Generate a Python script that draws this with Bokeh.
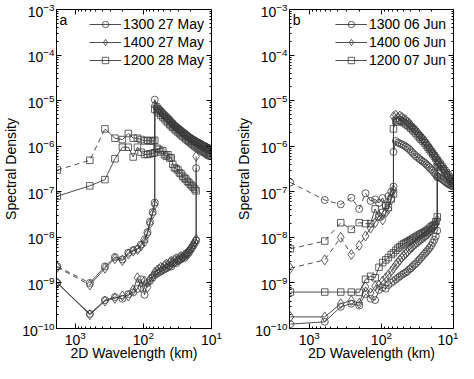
from bokeh.plotting import figure
from bokeh.models import (Range1d, LogAxis, FixedTicker, Label, Legend, LegendItem,
                          CustomJSTickFormatter)
from bokeh.layouts import row
from bokeh.embed import file_html
from bokeh.resources import INLINE

# 2D wavelengths (km): coarse spectrum points and fine spectrum points
LAM_C = [1830, 610, 366, 261, 203, 166, 141, 122, 108, 96, 87, 80, 73, 68]
LAM_T = [68, 63, 59, 55.5, 52, 49, 46, 43.5, 41, 39, 37, 35, 33, 31, 29.5, 28, 26.5, 25,
         23.8, 22.6, 21.5, 20.4, 19.4, 18.5, 17.6, 16.8, 16, 15.2, 14.5, 13.8, 13.2, 12.6,
         12, 11.5, 11, 10.5, 10.1]
LAM_B = LAM_C + LAM_T[1:26]
LAM_JUMP = 16.8

X_TICKS = [10, 100, 1000]
Y_TICKS = [1e-10, 1e-9, 1e-8, 1e-7, 1e-6, 1e-5, 1e-4, 1e-3]

# ---------------- panel a ----------------
A_LABELS = ["1300 27 May", "1400 27 May", "1200 28 May"]
a1300_coarse = [2.3e-9, 1.0e-9, 2.3e-9, 3.7e-9, 3.3e-9, 4.6e-9, 5.2e-9, 5.6e-9, 7.0e-9, 9.0e-9, 1.3e-8, 2.2e-8, 3.6e-8, 5.8e-8]
a1300_top = [1.05e-5, 7.5e-6, 6.6e-6, 6.0e-6, 5.4e-6, 4.9e-6, 4.5e-6, 4.1e-6, 3.8e-6, 3.4e-6, 3.2e-6, 2.9e-6, 2.7e-6,
             2.5e-6, 2.35e-6, 2.2e-6, 2.05e-6, 1.95e-6, 1.8e-6, 1.7e-6, 1.6e-6, 1.5e-6, 1.45e-6, 1.38e-6, 1.32e-6,
             1.27e-6, 1.22e-6, 1.16e-6, 1.12e-6, 1.08e-6, 1.03e-6, 1.0e-6, 9.6e-7, 9.3e-7, 9.0e-7, 8.7e-7, 8.4e-7]
a1300_low = [1.0e-9, 2.1e-10, 4.2e-10, 4.9e-10, 4.5e-10, 5.7e-10, 6.2e-10, 7.4e-10, 1.2e-9, 5.5e-10, 1.0e-9, 1.1e-9,
             1.3e-9, 1.5e-9, 1.6e-9, 1.7e-9, 1.8e-9, 1.9e-9, 2.0e-9, 2.1e-9, 2.2e-9, 2.4e-9, 2.3e-9, 2.6e-9, 2.8e-9,
             2.7e-9, 3.0e-9, 3.2e-9, 3.3e-9, 3.6e-9, 3.5e-9, 3.9e-9, 4.2e-9, 4.6e-9, 5.2e-9, 5.8e-9, 6.6e-9, 7.5e-9, 8.5e-9]
a1300_jump = 3.3e-7

a1400_coarse = [2.2e-9, 9.0e-10, 2.1e-9, 3.4e-9, 3.1e-9, 4.3e-9, 5.0e-9, 5.4e-9, 6.5e-9, 8.0e-9, 1.2e-8, 2.0e-8, 3.3e-8, 5.2e-8]
a1400_top = [7.8e-6, 7.0e-6, 6.2e-6, 5.6e-6, 5.2e-6, 4.6e-6, 4.3e-6, 3.9e-6, 3.6e-6, 3.3e-6, 3.0e-6, 2.8e-6, 2.6e-6,
             2.4e-6, 2.25e-6, 2.1e-6, 2.0e-6, 1.85e-6, 1.75e-6, 1.65e-6, 1.55e-6, 1.47e-6, 1.4e-6, 1.33e-6, 1.28e-6,
             1.22e-6, 1.17e-6, 1.12e-6, 1.08e-6, 1.04e-6, 1.0e-6, 9.6e-7, 9.3e-7, 9.0e-7, 8.7e-7, 8.4e-7, 8.1e-7]
a1400_low = [1.0e-9, 2.0e-10, 4.0e-10, 4.6e-10, 5.2e-10, 5.2e-10, 7.0e-10, 1.3e-9, 8.0e-10, 1.1e-9, 8.0e-10, 1.2e-9,
             1.4e-9, 1.7e-9, 1.9e-9, 2.0e-9, 2.2e-9, 2.1e-9, 2.4e-9, 2.6e-9, 2.5e-9, 2.8e-9, 3.0e-9, 2.9e-9, 3.2e-9,
             3.4e-9, 3.3e-9, 3.6e-9, 3.8e-9, 3.7e-9, 4.1e-9, 4.3e-9, 4.6e-9, 5.0e-9, 5.6e-9, 6.2e-9, 7.0e-9, 8.0e-9, 9.0e-9]
a1400_jump = 6.0e-7

a1200_coarse = [3.0e-7, 4.9e-7, 2.4e-6, 1.5e-6, 1.4e-6, 1.9e-6, 1.5e-6, 1.5e-6, 1.4e-6, 1.3e-6, 1.35e-6, 1.3e-6, 1.3e-6, 1.35e-6]
a1200_top = [6.5e-6, 6.0e-6, 5.4e-6, 4.8e-6, 4.4e-6, 4.0e-6, 3.6e-6, 3.3e-6, 3.0e-6, 2.8e-6, 2.6e-6, 2.4e-6, 2.2e-6,
             2.05e-6, 1.9e-6, 1.78e-6, 1.66e-6, 1.55e-6, 1.45e-6, 1.36e-6, 1.28e-6, 1.2e-6, 1.13e-6, 1.07e-6, 1.01e-6,
             9.6e-7, 9.1e-7, 8.7e-7, 8.3e-7, 7.9e-7, 7.6e-7, 7.3e-7, 7.0e-7, 6.7e-7, 6.4e-7, 6.2e-7, 6.0e-7]
a1200_low = [8.0e-8, 1.35e-7, 1.85e-7, 5.3e-7, 9.5e-7, 9.5e-7, 5.8e-7, 9.5e-7, 7.4e-7, 6.6e-7, 6.6e-7, 6.8e-7, 7.0e-7,
             7.2e-7, 9.0e-7, 8.5e-7, 7.5e-7, 8.0e-7, 6.5e-7, 6.0e-7, 6.5e-7, 5.5e-7, 5.6e-7, 4.0e-7, 3.4e-7, 3.2e-7,
             3.0e-7, 2.6e-7, 2.5e-7, 2.2e-7, 2.0e-7, 1.9e-7, 1.7e-7, 1.6e-7, 1.45e-7, 1.35e-7, 1.25e-7, 1.15e-7, 1.05e-7]
a1200_jump = None

# ---------------- panel b ----------------
B_LABELS = ["1300 06 Jun", "1400 06 Jun", "1200 07 Jun"]
b1300_coarse = [1.6e-7, 6.6e-8, 5.3e-8, 7.4e-8, 4.2e-8, 9.3e-8, 6.3e-8, 6.8e-8, 5.7e-8, 7.3e-8, 5.0e-8, 8.0e-8, 1.0e-7, 1.3e-7]
b1300_top = [7.5e-7, 1.3e-6, 1.2e-6, 1.15e-6, 1.1e-6, 1.05e-6, 9.8e-7, 9.2e-7, 8.6e-7, 7.8e-7, 7.2e-7, 6.6e-7, 6.0e-7,
             5.6e-7, 5.2e-7, 4.9e-7, 4.6e-7, 4.3e-7, 4.0e-7, 3.7e-7, 3.4e-7, 3.1e-7, 2.9e-7, 2.6e-7, 2.4e-7, 2.2e-7,
             2.1e-7, 2.0e-7, 1.9e-7, 1.8e-7, 1.7e-7, 1.6e-7, 1.5e-7, 1.45e-7, 1.4e-7, 1.35e-7, 1.3e-7]
b1300_low = [1.25e-10, 1.4e-10, 3.0e-10, 3.5e-10, 3.2e-10, 5.7e-10, 4.5e-10, 4.2e-10, 7.0e-10, 8.0e-10, 7.5e-10, 9.0e-10,
             1.0e-9, 1.1e-9, 1.2e-9, 1.3e-9, 1.4e-9, 1.5e-9, 1.6e-9, 1.7e-9, 1.8e-9, 2.0e-9, 2.1e-9, 2.3e-9, 2.5e-9,
             2.7e-9, 3.0e-9, 3.3e-9, 3.6e-9, 4.0e-9, 4.4e-9, 4.8e-9, 5.3e-9, 5.9e-9, 6.6e-9, 7.6e-9, 8.8e-9, 1.05e-8, 1.4e-8]
b1300_jump = 2.1e-7

b1400_coarse = [2.1e-9, 3.2e-9, 1.0e-8, 4.2e-9, 6.6e-9, 1.07e-8, 1.6e-8, 2.1e-8, 3.0e-8, 2.4e-8, 3.5e-8, 4.2e-8, 6.8e-8, 1.1e-7]
b1400_top = [4.5e-6, 4.8e-6, 4.3e-6, 4.6e-6, 4.3e-6, 4.0e-6, 3.8e-6, 3.4e-6, 3.2e-6, 2.9e-6, 2.6e-6, 2.4e-6, 2.2e-6,
             1.95e-6, 1.75e-6, 1.6e-6, 1.45e-6, 1.3e-6, 1.15e-6, 1.0e-6, 9.0e-7, 8.0e-7, 7.1e-7, 6.3e-7, 5.6e-7,
             4.9e-7, 4.4e-7, 3.9e-7, 3.5e-7, 3.1e-7, 2.8e-7, 2.5e-7, 2.25e-7, 2.0e-7, 1.8e-7, 1.6e-7, 1.45e-7]
b1400_low = [1.8e-10, 1.8e-10, 3.5e-10, 4.1e-10, 3.6e-10, 8.2e-10, 6.0e-10, 8.5e-10, 9.0e-10, 1.1e-9, 1.3e-9, 1.5e-9,
             1.8e-9, 2.1e-9, 2.5e-9, 2.8e-9, 3.2e-9, 3.6e-9, 4.0e-9, 4.4e-9, 4.8e-9, 5.4e-9, 5.8e-9, 6.2e-9, 6.8e-9,
             7.4e-9, 8.0e-9, 8.6e-9, 9.2e-9, 9.8e-9, 1.05e-8, 1.12e-8, 1.2e-8, 1.3e-8, 1.42e-8, 1.56e-8, 1.75e-8, 2.0e-8, 2.4e-8]
b1400_jump = 4.0e-7

b1200_coarse = [5.6e-9, 8.3e-9, 2.1e-8, 1.5e-8, 2.1e-8, 2.0e-8, 2.0e-8, 4.2e-8, 2.8e-8, 3.5e-8, 5.0e-8, 4.5e-8, 7.0e-8, 9.0e-8]
b1200_top = [2.4e-6, 3.6e-6, 3.4e-6, 3.7e-6, 3.5e-6, 3.3e-6, 3.1e-6, 2.9e-6, 2.7e-6, 2.5e-6, 2.3e-6, 2.1e-6, 1.9e-6,
             1.7e-6, 1.55e-6, 1.42e-6, 1.3e-6, 1.18e-6, 1.06e-6, 9.5e-7, 8.5e-7, 7.6e-7, 6.8e-7, 6.1e-7, 5.5e-7,
             4.9e-7, 4.4e-7, 4.0e-7, 3.6e-7, 3.2e-7, 2.9e-7, 2.6e-7, 2.35e-7, 2.1e-7, 1.9e-7, 1.7e-7, 1.55e-7]
b1200_low = [6.3e-10, 6.3e-10, 6.3e-10, 6.3e-10, 6.2e-10, 1.2e-9, 1.4e-9, 1.3e-9, 2.2e-9, 2.8e-9, 3.2e-9, 3.6e-9,
             4.2e-9, 4.6e-9, 5.2e-9, 5.8e-9, 6.2e-9, 6.8e-9, 7.2e-9, 7.6e-9, 8.0e-9, 8.4e-9, 8.8e-9, 9.2e-9, 9.8e-9,
             1.04e-8, 1.1e-8, 1.15e-8, 1.2e-8, 1.26e-8, 1.32e-8, 1.4e-8, 1.48e-8, 1.58e-8, 1.7e-8, 1.8e-8, 1.9e-8, 2.2e-8, 2.8e-8]
b1200_jump = 3.5e-7

FONT = "Liberation Sans"
INK = "#3a3a3a"
MARKERS = [("circle", 7), ("diamond", 10), ("square", 6.5)]


def draw_series(p, marker, size, coarse, top, low, jump, n_dash):
    x1 = LAM_C + LAM_T
    y1 = coarse + top
    p.line(x1[:n_dash], y1[:n_dash], line_color=INK, line_width=0.9, line_dash="5 4")
    solid = p.line(x1[n_dash - 1:], y1[n_dash - 1:], line_color=INK, line_width=0.9)
    x2 = list(LAM_B)
    y2 = list(low)
    if jump is not None:
        x2.append(LAM_JUMP)
        y2.append(jump)
    p.line(x2, y2, line_color=INK, line_width=0.9)
    p.scatter(x2, y2, marker=marker, size=size, line_color=INK, line_width=0.8, fill_alpha=0)
    sc = p.scatter(x1, y1, marker=marker, size=size, line_color=INK, line_width=0.8, fill_alpha=0)
    return [solid, sc]


def style_axis(ax):
    ax.major_tick_in = 5
    ax.major_tick_out = 0
    ax.minor_tick_in = 2
    ax.minor_tick_out = 0
    ax.axis_line_color = "black"
    ax.major_tick_line_color = "black"
    ax.minor_tick_line_color = "black"
    ax.major_label_text_font = FONT
    ax.major_label_text_color = "black"
    ax.axis_label_text_font = FONT
    ax.axis_label_text_font_style = "normal"
    ax.axis_label_text_font_size = "14px"
    ax.axis_label_text_color = "black"


def make_panel(letter, labels, series, dashes, width, right_border):
    p = figure(width=width, height=363, x_axis_type="log", y_axis_type="log",
               x_range=Range1d(1880, 10), y_range=Range1d(1e-10, 1e-3),
               output_backend="svg", toolbar_location=None,
               min_border_left=46, min_border_right=right_border, min_border_top=9, min_border_bottom=0)
    p.grid.visible = False
    p.outline_line_color = "black"
    p.background_fill_color = "white"
    xminor = [k * 10 ** e for e in (1, 2) for k in range(2, 10)]
    yminor = [k * 10.0 ** e for e in range(-10, -3) for k in range(2, 10)]
    bottom_ax = p.below[0]
    left_ax = p.left[0]
    bottom_ax.axis_label = "2D Wavelength (km)"
    left_ax.axis_label = "Spectral Density"
    bottom_ax.ticker = FixedTicker(ticks=X_TICKS, minor_ticks=xminor)
    left_ax.ticker = FixedTicker(ticks=Y_TICKS, minor_ticks=yminor)
    blank = CustomJSTickFormatter(code="return ' '")
    top_ax = LogAxis(ticker=FixedTicker(ticks=X_TICKS, minor_ticks=xminor), formatter=blank,
                     major_label_text_font_size="1px", major_label_standoff=0, axis_label_standoff=0)
    right_ax = LogAxis(ticker=FixedTicker(ticks=Y_TICKS, minor_ticks=yminor), formatter=blank,
                       major_label_text_font_size="1px", major_label_standoff=0, axis_label_standoff=0)
    p.add_layout(top_ax, "above")
    p.add_layout(right_ax, "right")
    for ax in [bottom_ax, left_ax, top_ax, right_ax]:
        style_axis(ax)
    for ax in [bottom_ax, left_ax]:
        ax.major_label_text_font_size = "14px"
        ax.major_label_standoff = 2
    left_ax.axis_label_standoff = 0
    bottom_ax.axis_label_standoff = -3

    items = []
    for (marker, size), (coarse, top, low, jump), lab, nd in zip(MARKERS, series, labels, dashes):
        rs = draw_series(p, marker, size, coarse, top, low, jump, nd)
        items.append(LegendItem(label=lab, renderers=rs))
    leg = Legend(items=items, location="top_right")
    leg.border_line_alpha = 0
    leg.background_fill_alpha = 0
    leg.label_text_font = FONT
    leg.label_text_font_size = "14px"
    leg.label_text_color = "black"
    leg.glyph_width = 32
    leg.glyph_height = 16
    leg.label_height = 16
    leg.label_standoff = 2
    leg.spacing = 2
    leg.padding = 2
    leg.margin = 5
    p.add_layout(leg, "center")
    p.add_layout(Label(x=1700, y=9e-4, text=letter, text_baseline="top", text_align="left",
                       text_font=FONT, text_font_size="14px", text_color="black"))
    return p


pa = make_panel("a", A_LABELS,
                [(a1300_coarse, a1300_top, a1300_low, a1300_jump),
                 (a1400_coarse, a1400_top, a1400_low, a1400_jump),
                 (a1200_coarse, a1200_top, a1200_low, a1200_jump)],
                [2, 2, 3], 233, 22)
pb = make_panel("b", B_LABELS,
                [(b1300_coarse, b1300_top, b1300_low, b1300_jump),
                 (b1400_coarse, b1400_top, b1400_low, b1400_jump),
                 (b1200_coarse, b1200_top, b1200_low, b1200_jump)],
                [6, 6, 6], 225, 5)

layout = row(pa, pb)
open("out.html", "w").write(file_html(layout, INLINE))
